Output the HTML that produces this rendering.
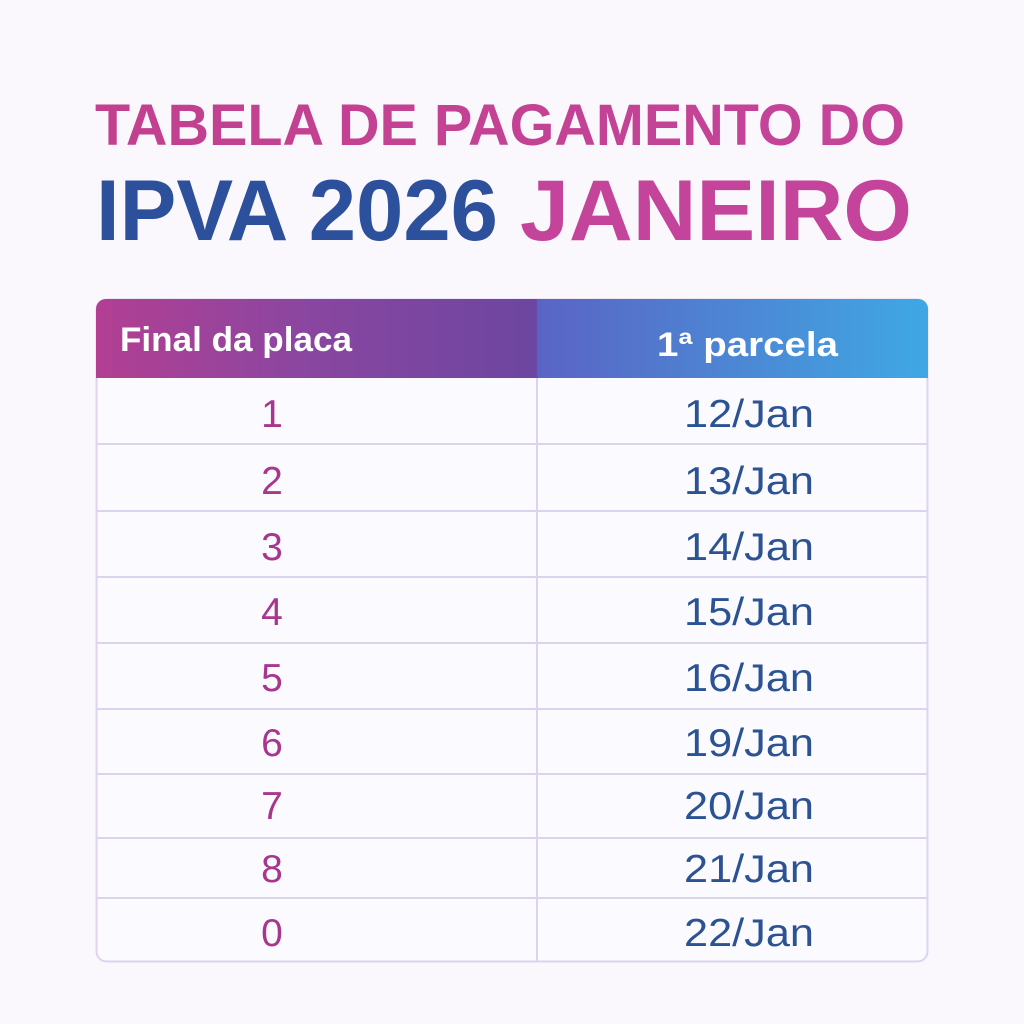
<!DOCTYPE html>
<html><head><meta charset="utf-8"><style>
html,body{margin:0;padding:0;background:#faf8fc;}
svg{display:block;}
</style></head><body>
<svg width="1024" height="1024" viewBox="0 0 1024 1024" xmlns="http://www.w3.org/2000/svg" font-family="Liberation Sans, sans-serif">
<defs>
<linearGradient id="hg" x1="0" x2="1" y1="0" y2="0">
<stop offset="0" stop-color="#b23f93"/>
<stop offset="0.25" stop-color="#8a46a0"/>
<stop offset="0.529" stop-color="#6c46a0"/>
<stop offset="0.531" stop-color="#5a64c4"/>
<stop offset="1" stop-color="#3fa8e4"/>
</linearGradient>
<linearGradient id="tg" x1="0" x2="1">
<stop offset="0" stop-color="#c2408e"/>
<stop offset="1" stop-color="#c4449a"/>
</linearGradient>
</defs>
<rect width="1024" height="1024" fill="#faf8fc"/>
<text x="95" y="145" font-size="58" font-weight="bold" fill="url(#tg)" textLength="810" lengthAdjust="spacingAndGlyphs">TABELA DE PAGAMENTO DO</text>
<text x="96" y="240" font-size="86" font-weight="bold" fill="#2d509c" textLength="402" lengthAdjust="spacingAndGlyphs">IPVA 2026</text>
<text x="520" y="240" font-size="86" font-weight="bold" fill="#c3449a" textLength="392" lengthAdjust="spacingAndGlyphs">JANEIRO</text>
<rect x="96.5" y="299.5" width="831" height="662" rx="10" fill="#fbfaff" stroke="#ddd3ef" stroke-width="2"/>
<path d="M96 378 V309 a10 10 0 0 1 10 -10 H918 a10 10 0 0 1 10 10 V378 Z" fill="url(#hg)"/>
<text x="120" y="351" font-size="34" font-weight="bold" fill="#fff" textLength="232" lengthAdjust="spacingAndGlyphs">Final da placa</text>
<text x="657" y="356" font-size="34" font-weight="bold" fill="#fff" textLength="181" lengthAdjust="spacingAndGlyphs">1ª parcela</text>
<g stroke="#ddd3ef" stroke-width="2">
<line x1="537" y1="378" x2="537" y2="962"/>
<line x1="96" y1="444" x2="928" y2="444"/>
<line x1="96" y1="511" x2="928" y2="511"/>
<line x1="96" y1="577" x2="928" y2="577"/>
<line x1="96" y1="643" x2="928" y2="643"/>
<line x1="96" y1="709" x2="928" y2="709"/>
<line x1="96" y1="774" x2="928" y2="774"/>
<line x1="96" y1="838" x2="928" y2="838"/>
<line x1="96" y1="898" x2="928" y2="898"/>
</g>
<g font-size="39" fill="#a8368e" text-anchor="middle">
<text x="272" y="427">1</text>
<text x="272" y="494">2</text>
<text x="272" y="560">3</text>
<text x="272" y="625">4</text>
<text x="272" y="691">5</text>
<text x="272" y="756">6</text>
<text x="272" y="819">7</text>
<text x="272" y="882">8</text>
<text x="272" y="946">0</text>
</g>
<g font-size="39" fill="#2b5394">
<text x="684" y="427" textLength="130" lengthAdjust="spacingAndGlyphs">12/Jan</text>
<text x="684" y="494" textLength="130" lengthAdjust="spacingAndGlyphs">13/Jan</text>
<text x="684" y="560" textLength="130" lengthAdjust="spacingAndGlyphs">14/Jan</text>
<text x="684" y="625" textLength="130" lengthAdjust="spacingAndGlyphs">15/Jan</text>
<text x="684" y="691" textLength="130" lengthAdjust="spacingAndGlyphs">16/Jan</text>
<text x="684" y="756" textLength="130" lengthAdjust="spacingAndGlyphs">19/Jan</text>
<text x="684" y="819" textLength="130" lengthAdjust="spacingAndGlyphs">20/Jan</text>
<text x="684" y="882" textLength="130" lengthAdjust="spacingAndGlyphs">21/Jan</text>
<text x="684" y="946" textLength="130" lengthAdjust="spacingAndGlyphs">22/Jan</text>
</g>
</svg>
</body></html>
